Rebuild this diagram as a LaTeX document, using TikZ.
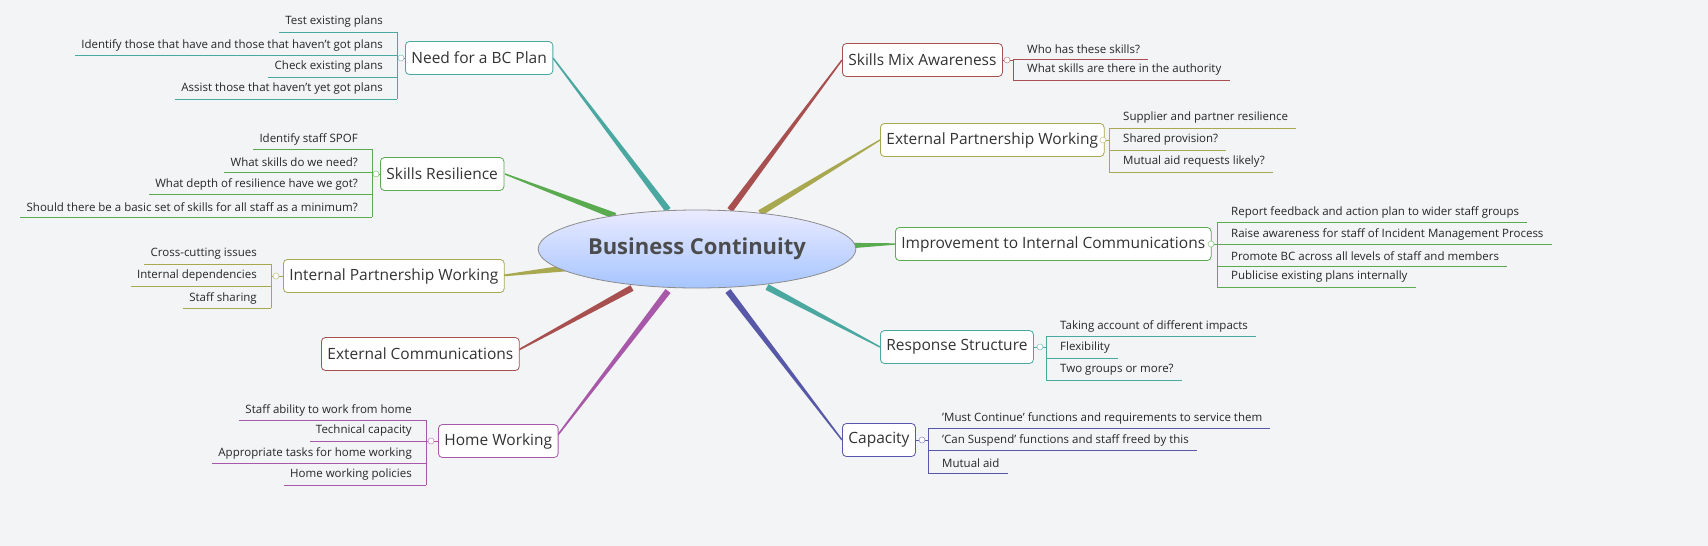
\documentclass[tikz,border=0pt]{standalone}
\usepackage{fontspec}
\setmainfont{Open Sans}
\usetikzlibrary{calc,shapes.geometric}
\definecolor{bg}{HTML}{F3F4F6}
\definecolor{cteal}{HTML}{4AA8A0}
\definecolor{cgreen}{HTML}{5AAA50}
\definecolor{colive}{HTML}{A8A850}
\definecolor{cred}{HTML}{A85050}
\definecolor{cpurp}{HTML}{A858A8}
\definecolor{cblue}{HTML}{5858A8}
\tikzset{
 leaf/.style={inner sep=0pt,font=\fontsize{11.5}{13}\selectfont,text=black!85},
 topic/.style={draw=#1,line width=0.8pt,rounded corners=4pt,fill=white,inner xsep=6pt,minimum height=33pt,font=\fontsize{15.5}{18}\selectfont,text=black!80},
 uline/.style={draw=#1,line width=0.8pt},
 knob/.style={circle,draw=#1!70,fill=white,inner sep=0pt,minimum size=6pt,line width=0.5pt}
}
\newcommand\leafL[5]{\node[leaf,anchor=east] (#1) at (#2-14,#3) {#5};
 \draw[uline=#4] ($(#1.west)+(-6,10)$) -- (#2,#3+10);}
\newcommand\leafR[5]{\node[leaf,anchor=west] (#1) at (#2+14,#3) {#5};
 \draw[uline=#4] (#2,#3+10) -- ($(#1.east)+(8,10)$);}
\newcommand\conn[3]{\fill[#3] ($(#1)!0.7pt!90:(#2)$) -- ($(#2)!3.2pt!-90:(#1)$) -- ($(#2)!3.2pt!90:(#1)$) -- ($(#1)!0.7pt!-90:(#2)$) -- cycle;}
\begin{document}
\begin{tikzpicture}[x=1pt,y=-1pt]
\fill[bg] (0,0) rectangle (1708,546);
\useasboundingbox (0,0) rectangle (1708,546);
% connectors
\coordinate (a1) at (553,58); \coordinate (b1) at (668,210); \conn{a1}{b1}{cteal}
\coordinate (a2) at (505,174); \coordinate (b2) at (615,216); \conn{a2}{b2}{cgreen}
\coordinate (a3) at (499,276); \coordinate (b3) at (568,268); \conn{a3}{b3}{colive}
\coordinate (a4) at (513,353); \coordinate (b4) at (632,288); \conn{a4}{b4}{cred}
\coordinate (a5) at (554,440); \coordinate (b5) at (668,291); \conn{a5}{b5}{cpurp}
\coordinate (a6) at (842,60); \coordinate (b6) at (730,210); \conn{a6}{b6}{cred}
\coordinate (a7) at (880,140); \coordinate (b7) at (760,213); \conn{a7}{b7}{colive}
\coordinate (a8) at (895,244); \coordinate (b8) at (840,246); \conn{a8}{b8}{cgreen}
\coordinate (a9) at (880,347); \coordinate (b9) at (767,287); \conn{a9}{b9}{cteal}
\coordinate (a10) at (842,440); \coordinate (b10) at (728,291); \conn{a10}{b10}{cblue}
% center
\node[ellipse,draw=black!45,line width=0.8pt,top color=blue!8,bottom color=cyan!35!blue!35,minimum width=284pt,minimum height=78pt,font=\fontsize{22}{26}\selectfont\bfseries,text=black!70] (c) at (697,249) {Business Continuity};
% topics
\node[topic=cteal,anchor=west] (t1) at (405,58) {Need for a BC Plan};
\node[topic=cgreen,anchor=west] (t2) at (380,174) {Skills Resilience};
\node[topic=colive,anchor=west] (t3) at (283,276) {Internal Partnership Working};
\node[topic=cred,anchor=west] (t4) at (321,354) {External Communications};
\node[topic=cpurp,anchor=west] (t5) at (438,441) {Home Working};
\node[topic=cred,anchor=west] (t6) at (842,60) {Skills Mix Awareness};
\node[topic=colive,anchor=west] (t7) at (880,140) {External Partnership Working};
\node[topic=cgreen,anchor=west] (t8) at (895,244) {Improvement to Internal Communications};
\node[topic=cteal,anchor=west] (t9) at (880,347) {Response Structure};
\node[topic=cblue,anchor=west] (t10) at (842,440) {Capacity};
% leaves left
\leafL{l11}{397}{22}{cteal}{Test existing plans}
\leafL{l12}{397}{45}{cteal}{Identify those that have and those that haven't got plans}
\leafL{l13}{397}{67}{cteal}{Check existing plans}
\leafL{l14}{397}{89}{cteal}{Assist those that haven't yet got plans}
\draw[uline=cteal] (397,32) -- (397,99); \draw[uline=cteal] (t1.west) -- (397,58);
\node[knob=cteal] (k1) at (401,58) {};
\leafL{l21}{372}{139}{cgreen}{Identify staff SPOF}
\leafL{l22}{372}{162}{cgreen}{What skills do we need?}
\leafL{l23}{372}{184}{cgreen}{What depth of resilience have we got?}
\leafL{l24}{372}{207}{cgreen}{Should there be a basic set of skills for all staff as a minimum?}
\draw[uline=cgreen] (372,149) -- (372,217); \draw[uline=cgreen] (t2.west) -- (372,174);
\node[knob=cgreen] (k2) at (376,174) {};
\leafL{l31}{271}{254}{colive}{Cross-cutting issues}
\leafL{l32}{271}{276}{colive}{Internal dependencies}
\leafL{l33}{271}{298}{colive}{Staff sharing}
\draw[uline=colive] (271,264) -- (271,308); \draw[uline=colive] (t3.west) -- (271,276);
\node[knob=colive] (k3) at (276,276) {};
\leafL{l51}{426}{410}{cpurp}{Staff ability to work from home}
\leafL{l52}{426}{431}{cpurp}{Technical capacity}
\leafL{l53}{426}{453}{cpurp}{Appropriate tasks for home working}
\leafL{l54}{426}{475}{cpurp}{Home working policies}
\draw[uline=cpurp] (426,420) -- (426,485); \draw[uline=cpurp] (t5.west) -- (426,441);
\node[knob=cpurp] (k5) at (431,441) {};
% leaves right
\leafR{l61}{1013}{49}{cred}{Who has these skills?}
\leafR{l62}{1013}{70}{cred}{What skills are there in the authority}
\draw[uline=cred] (1013,59) -- (1013,80); \draw[uline=cred] (t6.east) -- (1013,60);
\node[knob=cred] (k6) at (1007,60) {};
\leafR{l71}{1109}{118}{colive}{Supplier and partner resilience}
\leafR{l72}{1109}{140}{colive}{Shared provision?}
\leafR{l73}{1109}{162}{colive}{Mutual aid requests likely?}
\draw[uline=colive] (1109,128) -- (1109,172); \draw[uline=colive] (t7.east) -- (1109,140);
\node[knob=colive] (k7) at (1103,140) {};
\leafR{l81}{1217}{212}{cgreen}{Report feedback and action plan to wider staff groups}
\leafR{l82}{1217}{234}{cgreen}{Raise awareness for staff of Incident Management Process}
\leafR{l83}{1217}{256}{cgreen}{Promote BC across all levels of staff and members}
\leafR{l84}{1217}{277}{cgreen}{Publicise existing plans internally}
\draw[uline=cgreen] (1217,222) -- (1217,287); \draw[uline=cgreen] (t8.east) -- (1217,244);
\node[knob=cgreen] (k8) at (1211,244) {};
\leafR{l91}{1046}{326}{cteal}{Taking account of different impacts}
\leafR{l92}{1046}{348}{cteal}{Flexibility}
\leafR{l93}{1046}{370}{cteal}{Two groups or more?}
\draw[uline=cteal] (1046,336) -- (1046,380); \draw[uline=cteal] (t9.east) -- (1046,347);
\node[knob=cteal] (k9) at (1040,347) {};
\leafR{l101}{928}{418}{cblue}{'Must Continue' functions and requirements to service them}
\leafR{l102}{928}{440}{cblue}{'Can Suspend' functions and staff freed by this}
\leafR{l103}{928}{463}{cblue}{Mutual aid}
\draw[uline=cblue] (928,428) -- (928,473); \draw[uline=cblue] (t10.east) -- (928,440);
\node[knob=cblue] (k10) at (922,440) {};
\end{tikzpicture}
\end{document}
